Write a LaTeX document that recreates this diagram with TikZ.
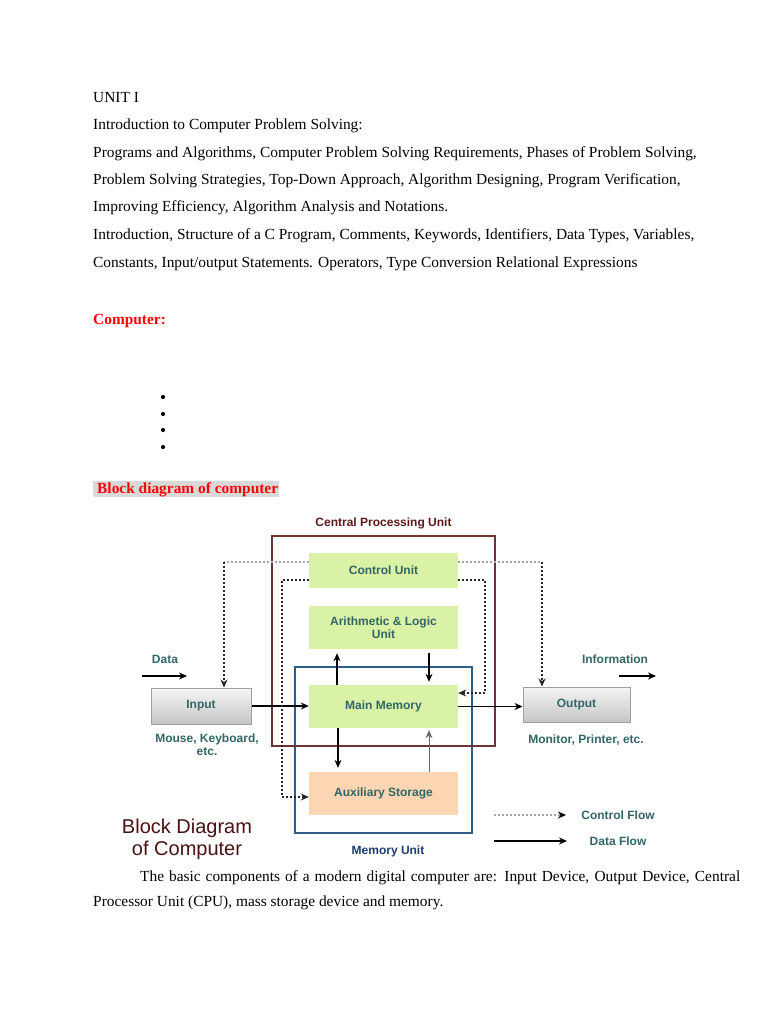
\documentclass[tikz,border=0pt]{standalone}
\usepackage{fontspec}
\setmainfont{Liberation Serif}
\setsansfont{Liberation Sans}
\usetikzlibrary{arrows.meta,calc}
\definecolor{tealtxt}{HTML}{336666}
\definecolor{cellgreen}{HTML}{D9F2A6}
\definecolor{peach}{HTML}{FCD6B2}
\definecolor{cpuborder}{HTML}{6B3535}
\definecolor{cputxt}{HTML}{5C1A1A}
\definecolor{memborder}{HTML}{2E5C8A}
\definecolor{memtxt}{HTML}{1F3C73}
\definecolor{bigtxt}{HTML}{4A1212}
\definecolor{hl}{HTML}{D9D9D9}
\begin{document}
\begin{tikzpicture}[x=1pt,y=-1pt,
  body/.style={anchor=base west,inner sep=0pt,font=\fontsize{15.4}{18}\selectfont},
  redhead/.style={anchor=base west,inner sep=0pt,text=red,font=\fontsize{15.4}{18}\selectfont\bfseries},
  sflabel/.style={font=\sffamily\bfseries\fontsize{12}{13}\selectfont,text=tealtxt,align=center,inner sep=0pt},
  unitbox/.style={minimum width=149pt,inner sep=0pt,align=center,font=\sffamily\bfseries\fontsize{12}{13}\selectfont,text=tealtxt},
  iobox/.style={draw=gray!75,top color=gray!8,bottom color=gray!45,inner sep=0pt,line width=1pt,font=\sffamily\bfseries\fontsize{12}{13}\selectfont,text=tealtxt},
  dataflow/.style={draw=black,line width=1.2pt,-{Stealth[length=8pt,width=7pt]}},
  ctrlflow/.style={draw=black!85,line width=1.15pt,dash pattern=on 2.2pt off 1.8pt,-{Stealth[length=8pt,width=7pt]}},
  ctrlgray/.style={draw=gray!70,line width=1.15pt,dash pattern=on 2.2pt off 1.8pt}
]
\useasboundingbox (0,0) rectangle (768,1024);
\fill[white] (0,0) rectangle (768,1024);

% ---------- text of the page ----------
\node[body] (t1) at (93,103) {UNIT I};
\node[body] (t2) at (93,130) {Introduction to Computer Problem Solving:};
\node[body] (t3) at (93,158) {Programs and Algorithms, Computer Problem Solving Requirements, Phases of Problem Solving,};
\node[body] (t4) at (93,185) {Problem Solving Strategies, Top-Down Approach, Algorithm Designing, Program Verification,};
\node[body] (t5) at (93,212) {Improving Efficiency, Algorithm Analysis and Notations.};
\node[body] (t6) at (93,240) {Introduction, Structure of a C Program, Comments, Keywords, Identifiers, Data Types, Variables,};
\node[body] (t7) at (93,267) {Constants, Input/output Statements. Operators, Type Conversion Relational Expressions};

\node[redhead] (comp) at (93,324) {Computer:};

\foreach \yy in {397,414,430,447}
  \fill (163,\yy) circle (2.1pt);

\fill[hl] (93,481) rectangle (279,497);
\node[redhead] (bd) at (97,493.5) {Block diagram of computer};

\node[body] (p1) at (140,881) {\makebox[600pt][s]{The basic components of a modern digital computer are: Input Device, Output Device, Central}};
\node[body] (p2) at (93,906) {Processor Unit (CPU), mass storage device and memory.};

% ---------- diagram ----------
\draw[memborder,line width=1.4pt] (295,667) rectangle (472,833);
\draw[cpuborder,line width=1.4pt] (272,536) rectangle (495,746);

\node[font=\sffamily\bfseries\fontsize{12}{13}\selectfont,text=cputxt] (cputitle) at (383.5,523) {Central Processing Unit};
\node[font=\sffamily\bfseries\fontsize{12}{13}\selectfont,text=memtxt] (memtitle) at (388,851) {Memory Unit};

\node[unitbox,fill=cellgreen,minimum height=35pt] (cu) at (383.5,570.5) {Control Unit};
\node[unitbox,fill=cellgreen,minimum height=43pt] (alu) at (383.5,627.5) {Arithmetic \& Logic\\Unit};
\node[unitbox,fill=cellgreen,minimum height=43pt] (mm) at (383.5,706.5) {Main Memory};
\node[unitbox,fill=peach,minimum height=43pt] (aux) at (383.5,793.5) {Auxiliary Storage};

\node[iobox,minimum width=100pt,minimum height=36pt] (in) at (201,706) {Input};
\node[iobox,minimum width=107pt,minimum height=35pt] (out) at (576.5,704.5) {Output};

\node[sflabel] (inlab) at (207,744.5) {Mouse, Keyboard,\\etc.};
\node[sflabel] (outlab) at (586,740) {Monitor, Printer, etc.};

\node[sflabel] (datalab) at (165,659) {Data};
\node[sflabel] (infolab) at (615,659) {Information};
\coordinate (d1) at (142,676);
\coordinate (d2) at (187,676);
\coordinate (i1) at (619,676);
\coordinate (i2) at (656,676);
\draw[dataflow] (d1) -- (d2);
\draw[dataflow] (i1) -- (i2);

% data flows
\draw[dataflow] (in.east) -- (in.east -| mm.west);
\draw[dataflow] (mm.east) -- (mm.east -| out.west);
\draw[dataflow,shorten <=4pt,shorten >=3pt] ([xshift=45.5pt]alu.south) -- ([xshift=45.5pt]alu.south |- mm.north);
\draw[dataflow,shorten >=4pt] ([xshift=-46.5pt]mm.north) -- ([xshift=-46.5pt]mm.north |- alu.south);
\draw[dataflow,shorten >=4pt] ([xshift=-45.5pt]mm.south) -- ([xshift=-45.5pt]mm.south |- aux.north);
\draw[draw=gray!80!black,line width=1pt,-{Stealth[length=8pt,width=7pt]},shorten >=2pt] ([xshift=45.5pt]aux.north) -- ([xshift=45.5pt]aux.north |- mm.south);

% control flows
\coordinate (oL) at (224,562);
\coordinate (oR) at (542,562);
\draw[ctrlgray] ([yshift=8.5pt]cu.west) -- (oL);
\draw[ctrlflow] (oL) -- (oL |- in.north);
\draw[ctrlgray] ([yshift=8.5pt]cu.east) -- (oR);
\draw[ctrlflow] (oR) -- (oR |- out.north);

\coordinate (iL) at (282,580);
\coordinate (iL2) at (282,797);
\coordinate (iR) at (485,580);
\coordinate (iR2) at (485,693);
\draw[ctrlflow] ([yshift=-9.5pt]cu.west) -- (iL) -- (iL2) -- (iL2 -| aux.west);
\draw[ctrlflow] ([yshift=-9.5pt]cu.east) -- (iR) -- (iR2) -- (iR2 -| mm.east);

% legend
\coordinate (lc1) at (494,815);
\coordinate (lc2) at (566,815);
\coordinate (ld1) at (494,841);
\coordinate (ld2) at (567,841);
\draw[ctrlgray,-{Stealth[length=8pt,width=7pt,color=black]}] (lc1) -- (lc2);
\draw[dataflow] (ld1) -- (ld2);
\node[sflabel] (lcl) at (618,815) {Control Flow};
\node[sflabel] (ldl) at (618,841) {Data Flow};

\node[font=\sffamily\fontsize{20}{22}\selectfont,text=bigtxt,align=center,inner sep=0pt] (bigtitle) at (187,839) {Block Diagram\\of Computer};
\end{tikzpicture}
\end{document}
